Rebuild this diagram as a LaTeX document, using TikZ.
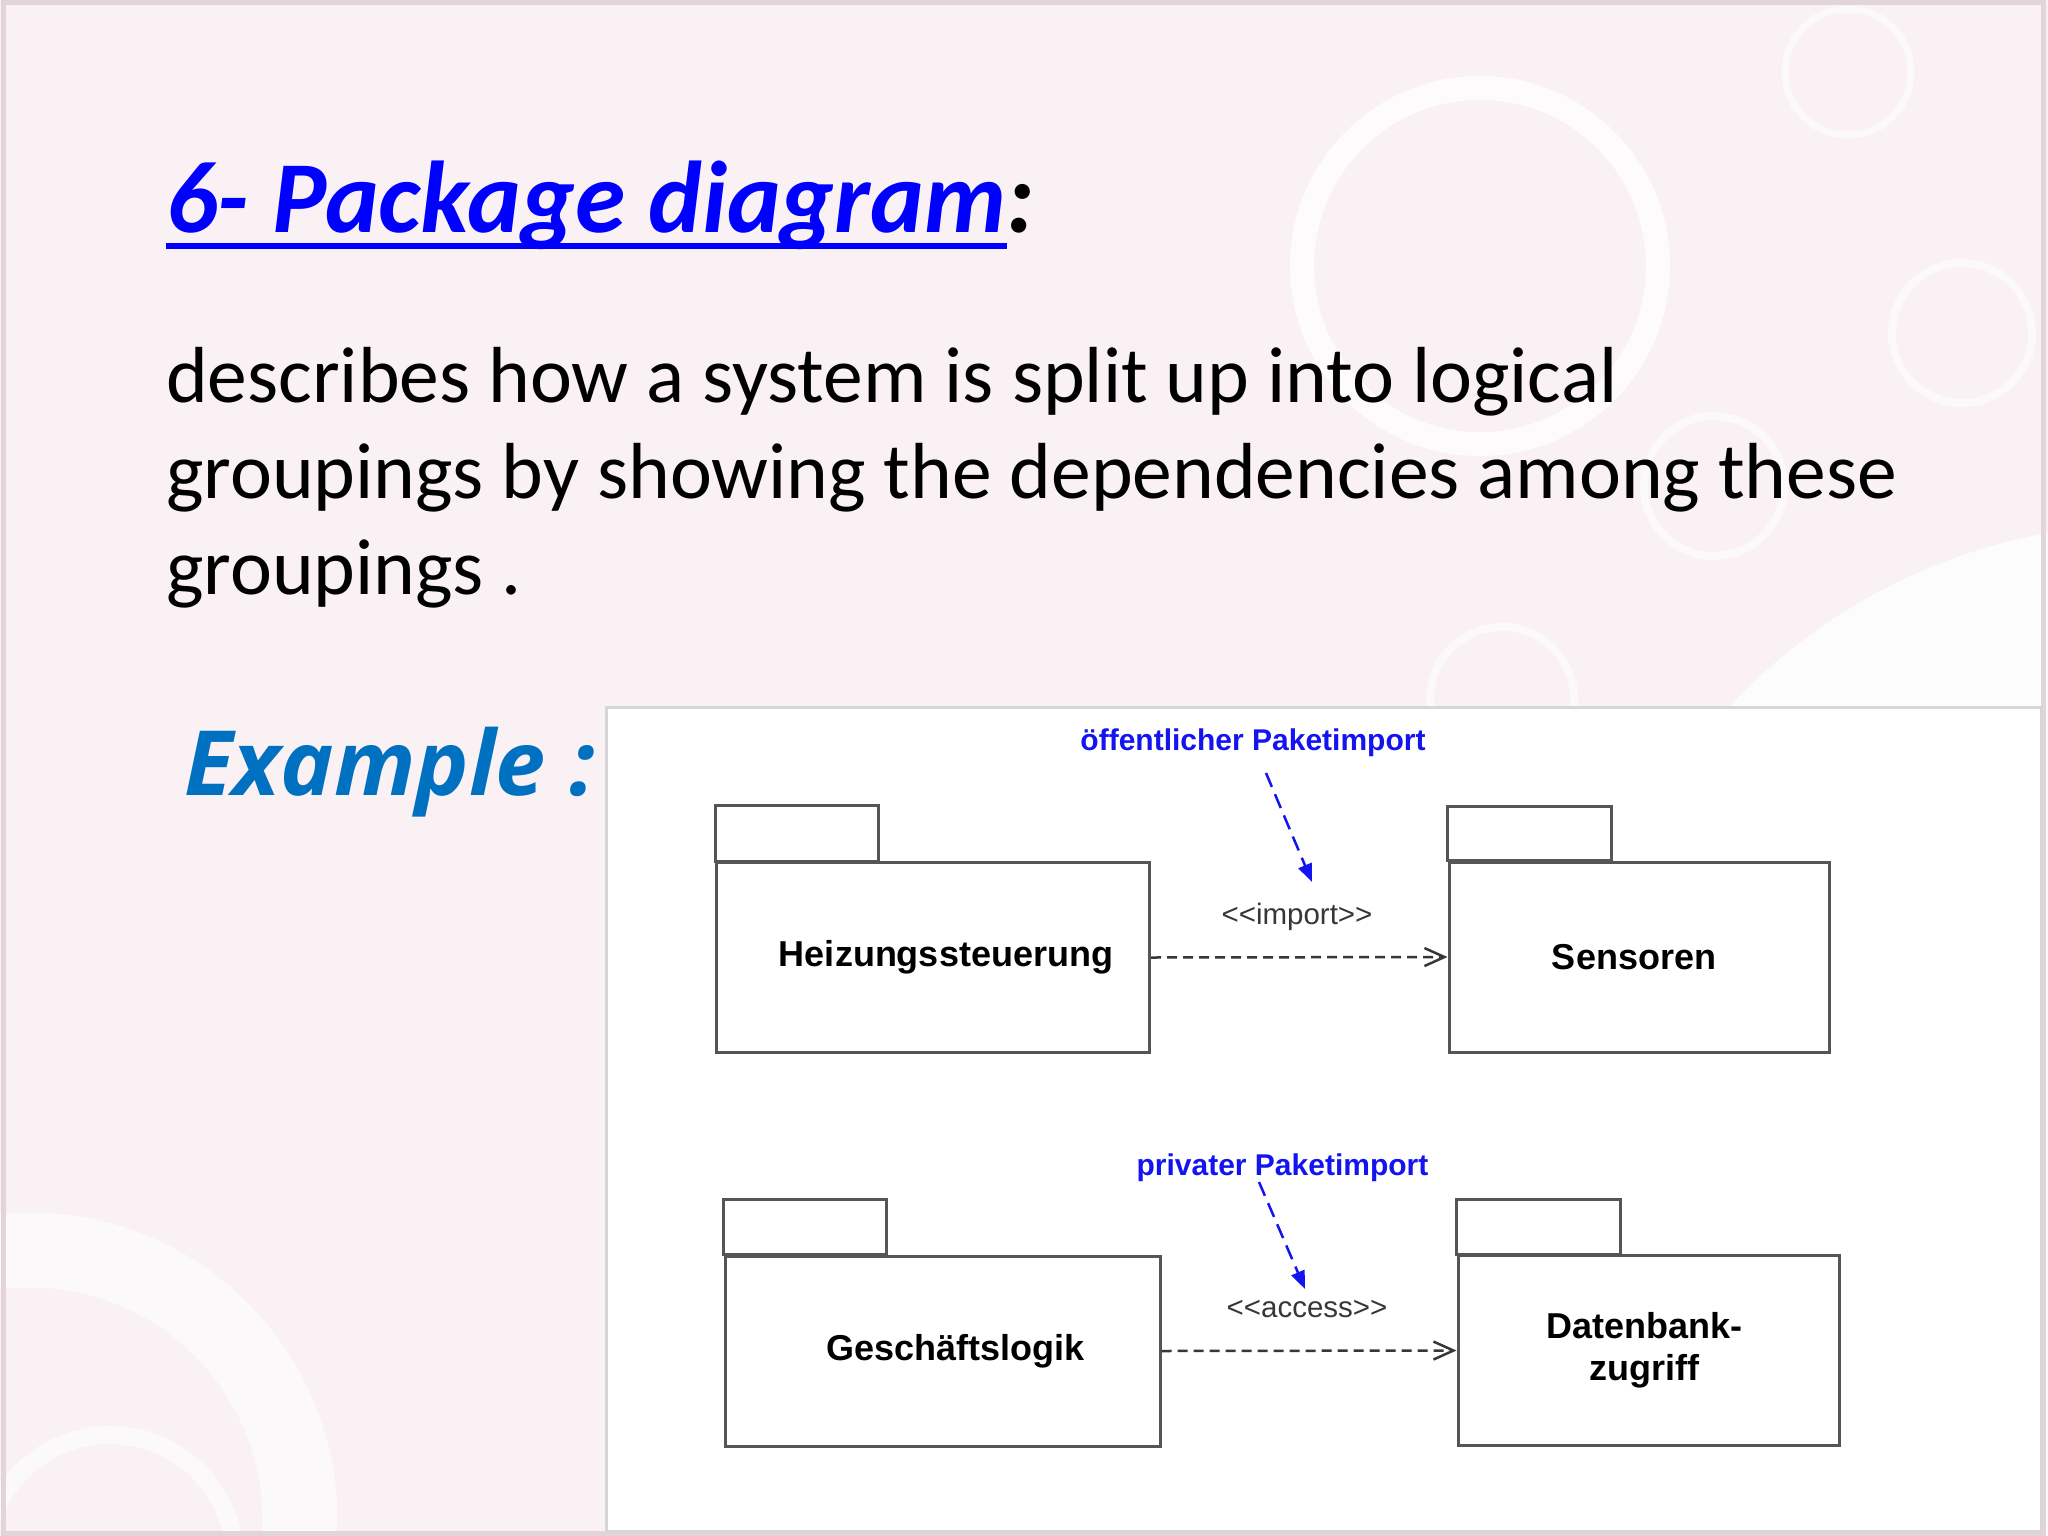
\documentclass[tikz,border=0pt]{standalone}
\usepackage{fontspec}
\setmainfont{Carlito}
\newfontfamily\arialf{Liberation Sans}
\newfontfamily\exfont{Open Sans}
\usetikzlibrary{arrows.meta}
\definecolor{bgpink}{RGB}{249,241,243}
\definecolor{framec}{RGB}{226,212,216}
\definecolor{titleblue}{RGB}{0,0,255}
\definecolor{exblue}{RGB}{0,112,192}
\definecolor{boxgray}{RGB}{85,85,85}
\definecolor{dashgray}{RGB}{55,55,55}
\definecolor{notblue}{RGB}{20,20,240}
\definecolor{panelborder}{RGB}{214,214,214}
\begin{document}
\begin{tikzpicture}[x=1pt,y=-1pt,
  ring/.style={draw=white,opacity=0.6},
  pkg/.style={draw=boxgray,line width=3pt,fill=white,minimum height=190pt,inner sep=0pt,
    font=\arialf\bfseries\fontsize{36}{42}\selectfont,align=center,text=black},
  pkgtab/.style={draw=boxgray,line width=3pt,fill=white},
  stereo/.style={font=\arialf\fontsize{29.5}{34}\selectfont,text=dashgray,inner sep=0pt},
  note/.style={font=\arialf\bfseries\fontsize{30}{36}\selectfont,text=notblue,inner sep=0pt},
  dep/.style={draw=dashgray,line width=2.5pt,dash pattern=on 10pt off 6pt,
    -{Straight Barb[length=20pt,width=18pt,line width=2.5pt]}},
  noteline/.style={draw=notblue,line width=2.5pt,dash pattern=on 15pt off 8pt,
    -{Triangle[length=18pt,width=14pt]}},
  body/.style={anchor=base west,inner sep=0pt,font=\fontsize{79.5}{97}\selectfont,text=black},
  titlef/.style={anchor=base west,inner sep=0pt,font=\bfseries\itshape\fontsize{102}{120}\selectfont}
]
\useasboundingbox (0,0) rectangle (2048,1536);
% background
\fill[bgpink] (0,0) rectangle (2048,1536);
\draw[ring,line width=24pt,opacity=0.75] (1480,266) circle[radius=178];
\draw[ring,line width=7pt] (1848,72) circle[radius=63];
\draw[ring,line width=8pt] (1962,333) circle[radius=70];
\draw[ring,line width=8pt] (1714,486) circle[radius=70];
\draw[ring,line width=8pt] (1502,699) circle[radius=72];
\fill[white,opacity=0.8] (2150,1100) circle[radius=576];
\draw[ring,line width=75pt] (30,1520) circle[radius=270];
\draw[ring,line width=18pt] (110,1560) circle[radius=125];
\draw[framec,line width=5pt] (3,3) rectangle (2043,1533);

% title and text
\node[titlef,text=titleblue] (title) at (166,232) {6- Package diagram};
\node[titlef,text=black] (colon) at (title.base east) {:};
\draw[titleblue,line width=6pt] ([yshift=-14pt]title.base west) -- ([yshift=-14pt]title.base east);
\node[body] (l1) at (166,402) {describes how a system is split up into logical};
\node[body] (l2) at (166,498) {groupings by showing the dependencies among these};
\node[body] (l3) at (166,594) {groupings .};
\node[anchor=base west,inner sep=0pt,text=exblue,font=\exfont\bfseries\itshape\fontsize{90}{110}\selectfont] (ex) at (184,795) {Example :};

% panel
\draw[panelborder,line width=3pt,fill=white] (606,707) rectangle (2041,1531);

% packages
\node[pkg,minimum width=433pt] (heiz) at (933,957.5) {\hspace*{26pt}Heizungssteuerung};
\draw[pkgtab] (heiz.north west) rectangle ++(163,-56);
\node[pkg,minimum width=380pt] (sens) at (1639,957) {Sensoren\hspace*{10pt}};
\draw[pkgtab] (sens.north west) rectangle ++(164,-54);
\node[pkg,minimum width=435pt] (gesch) at (942.5,1351) {\hspace*{26pt}Geschäftslogik};
\draw[pkgtab] (gesch.north west) rectangle ++(163,-55);
\node[pkg,minimum width=381pt] (daten) at (1648.5,1350.5) {Datenbank-\hspace*{8pt}\\zugriff\hspace*{8pt}};
\draw[pkgtab] (daten.north west) rectangle ++(164,-55);

% dependencies
\draw[dep] (heiz.east) -- (sens.west);
\draw[dep] (gesch.east) -- (daten.west);
\node[stereo] (imp) at (1297,917) {<\kern0pt<import>\kern0pt>};
\node[stereo] (acc) at (1307,1309) {<\kern0pt<access>\kern0pt>};

% notes
\node[note] (pub) at (1253,743) {öffentlicher Paketimport};
\node[note] (priv) at (1282.5,1168) {privater Paketimport};
\coordinate (pubA) at (1266,773);
\coordinate (pubB) at (1312,882);
\coordinate (privA) at (1259,1182);
\coordinate (privB) at (1305,1289);
\draw[noteline] (pubA) -- (pubB);
\draw[noteline] (privA) -- (privB);
\end{tikzpicture}
\end{document}
